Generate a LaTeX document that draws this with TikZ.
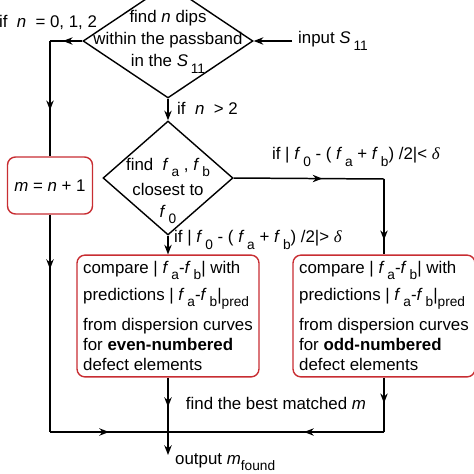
\documentclass[tikz,border=0pt]{standalone}
\usepackage{fontspec}
\setmainfont{Liberation Sans}
\newfontfamily\deltafont{Liberation Serif}
\usetikzlibrary{shapes.geometric,arrows.meta,decorations.markings}
\definecolor{boxred}{RGB}{200,45,50}
\newcommand{\lsub}[1]{\raisebox{-0.75ex}{\fontsize{7.8}{8}\selectfont #1}}
\newcommand{\fvar}{\textit{f}}

\begin{document}
\begin{tikzpicture}[x=0.02cm, y=-0.02cm, font=\fontsize{9.6}{11.4}\selectfont,
    conn/.style={line width=0.85pt},
    tip/.style={-{Stealth[length=5.5pt,width=4.2pt]}},
    midarrow/.style={postaction={decorate}, decoration={markings, mark=at position #1 with {\arrow{Stealth[length=5.5pt,width=4.2pt]}}}},
    dia/.style={diamond, draw, line width=0.8pt, inner sep=0pt},
    redbox/.style={draw=boxred, line width=0.8pt, rounded corners=4.5pt, minimum width=3.64cm, minimum height=2.32cm, inner xsep=0.05cm, align=left}]
\useasboundingbox (0,0) rectangle (474,474);

\node[dia, minimum width=3.4cm, minimum height=2.28cm] (d1) at (168,41) {};
\node[align=center] (d1txt) at (168,42) {find \textit{n} dips\\[1pt] within the passband\\[1pt] in the \textit{S}\,\lsub{11}};
\node[anchor=west] (input) at (292,41) {input \textit{S}\,\lsub{11}};
\node (cond0) at (48,22) {if\ \ \textit{n}\ \ = 0, 1, 2};
\coordinate (tl) at (50,41);
\node[draw=boxred, line width=0.8pt, rounded corners=4.5pt, minimum width=1.7cm, minimum height=1.14cm] (mbox) at (50,185.5) {\textit{m} = \textit{n} + 1};
\coordinate (bl) at (50,432);

\node[anchor=west] (cond1) at (171,108) {if\ \ \textit{n}\ \ > 2};
\node[dia, minimum width=2.6cm, minimum height=2.28cm] (d2) at (168,178) {};
\node[align=center] (d2txt) at (168,191) {find\ \ \fvar\,\lsub{a}\ , \fvar\,\lsub{b}\\[3pt] closest to\\[1pt] \fvar\,\lsub{0}};
\coordinate (tr) at (384,179);
\node (condlt) at (356,157) {if | \fvar\,\lsub{0} - ( \fvar\,\lsub{a} + \fvar\,\lsub{b}) /2|< {\deltafont\textit{δ}}};
\node[anchor=west] (condgt) at (168,240) {if | \fvar\,\lsub{0} - ( \fvar\,\lsub{a} + \fvar\,\lsub{b}) /2|> {\deltafont\textit{δ}}};

\node[redbox] (ebox) at (168,316) {compare | \fvar\,\lsub{a}-\fvar\,\lsub{b}| with\\[4pt]
    predictions | \fvar\,\lsub{a}-\fvar\,\lsub{b}|\lsub{pred}\\[4pt]
    from dispersion curves\\ for \textbf{even-numbered}\\ defect elements};
\node[redbox] (obox) at (384,316) {compare | \fvar\,\lsub{a}-\fvar\,\lsub{b}| with\\[4pt]
    predictions | \fvar\,\lsub{a}-\fvar\,\lsub{b}|\lsub{pred}\\[4pt]
    from dispersion curves\\ for \textbf{odd-numbered}\\ defect elements};
\coordinate (br) at (384,432);
\coordinate (bm) at (168,432);
\node (best) at (276,403) {find the best matched \textit{m}};
\coordinate (outend) at (168,455);
\node[anchor=west] (output) at (169,462) {output \textit{m}\lsub{found}};

\draw[conn, tip] (input.west) -- (d1.east);
\draw[conn, midarrow=0.6] (d1.west) -- (tl);
\draw[conn, midarrow=0.6] (tl) -- (mbox.north);
\draw[conn, midarrow=0.25] (mbox.south) -- (bl);
\draw[conn, midarrow=0.5] (bl) -- (bm);
\draw[conn, tip] (d1.south) -- (d2.north);
\draw[conn, midarrow=0.59] (d2.east) -- (tr);
\draw[conn, midarrow=0.81] (tr) -- (obox.north);
\draw[conn, tip] (d2.south) -- (ebox.north);
\draw[conn, tip, midarrow=0.38] (ebox.south) -- (outend);
\draw[conn, midarrow=0.47] (obox.south) -- (br);
\draw[conn, midarrow=0.37] (br) -- (bm);
\end{tikzpicture}
\end{document}
